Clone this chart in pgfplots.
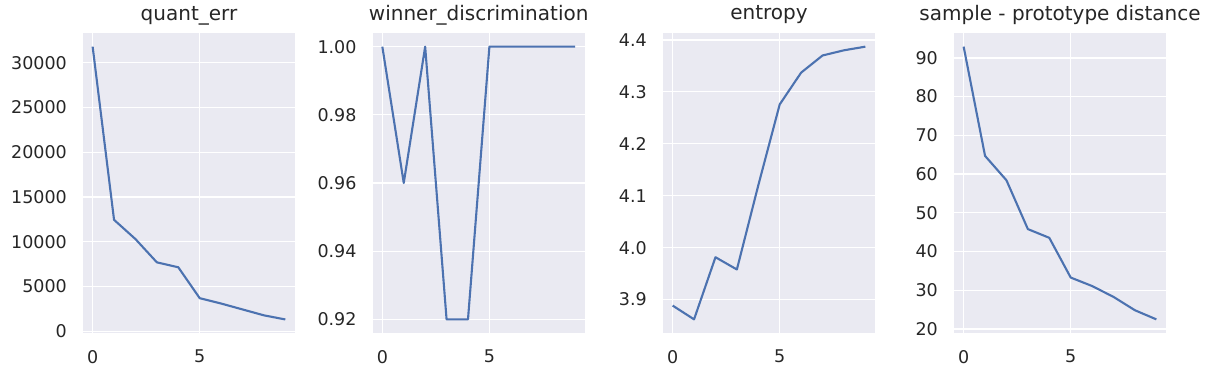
\documentclass[border=0pt]{standalone}
\usepackage{pgfplots}
\pgfplotsset{compat=1.18}
\usepackage{fontspec}
\setmainfont{DejaVu Sans}
\definecolor{sbbg}{HTML}{EAEAF2}
\definecolor{sbblue}{HTML}{4C72B0}
\definecolor{sbtext}{HTML}{262626}

\pgfplotsset{
  sb/.style={
    scale only axis, width=212pt, height=300pt,
    anchor=south west,
    xmin=-0.45, xmax=9.45,
    xtick={0,5},
    axis background/.style={fill=sbbg},
    axis line style={draw=none},
    major tick length=0pt,
    grid=major,
    major grid style={white, line width=1.3pt},
    tick label style={font=\fontsize{17.5}{20}\selectfont, text=sbtext, inner sep=0pt},
    yticklabel style={xshift=-16pt},
    xticklabel style={yshift=-17pt},
    /pgf/number format/assume math mode=true,
    /pgf/number format/set thousands separator={},
    scaled ticks=false,
    title style={font=\fontsize{20}{24}\selectfont, text=sbtext, anchor=base, at={(0.5,1)}, yshift=7pt, inner sep=0pt},
  },
  sbline/.style={color=sbblue, line width=2.1pt, mark=none, line join=round},
}

\begin{document}
\begin{tikzpicture}
\path[use as bounding box] (0,0) rectangle (1210pt,376pt);

\begin{axis}[sb, at={(83pt,43pt)}, title={quant\_err},
  ymin=-193, ymax=33323, ytick={0,5000,10000,15000,20000,25000,30000}]
\addplot[sbline] coordinates {(0,31800)(1,12450)(2,10300)(3,7700)(4,7150)(5,3700)(6,3100)(7,2440)(8,1780)(9,1320)};
\end{axis}

\begin{axis}[sb, at={(372.7pt,43pt)}, title={winner\_discrimination},
  ymin=0.916, ymax=1.004, ytick={0.92,0.94,0.96,0.98,1.00},
  yticklabel style={/pgf/number format/.cd, fixed, fixed zerofill, precision=2}]
\addplot[sbline] coordinates {(0,1)(1,0.96)(2,1)(3,0.92)(4,0.92)(5,1)(6,1)(7,1)(8,1)(9,1)};
\end{axis}

\begin{axis}[sb, at={(663pt,43pt)}, title={entropy},
  ymin=3.8357, ymax=4.4133, ytick={3.9,4.0,4.1,4.2,4.3,4.4},
  yticklabel style={/pgf/number format/.cd, fixed, fixed zerofill, precision=1}]
\addplot[sbline] coordinates {(0,3.8885)(1,3.862)(2,3.9816)(3,3.958)(4,4.12)(5,4.2758)(6,4.337)(7,4.370)(8,4.380)(9,4.387)};
\end{axis}

\begin{axis}[sb, at={(954pt,43pt)}, title={sample - prototype distance},
  ymin=18.98, ymax=96.42, ytick={20,30,40,50,60,70,80,90}]
\addplot[sbline] coordinates {(0,92.9)(1,64.7)(2,58.4)(3,45.8)(4,43.55)(5,33.3)(6,31.1)(7,28.3)(8,24.85)(9,22.5)};
\end{axis}
\end{tikzpicture}
\end{document}
